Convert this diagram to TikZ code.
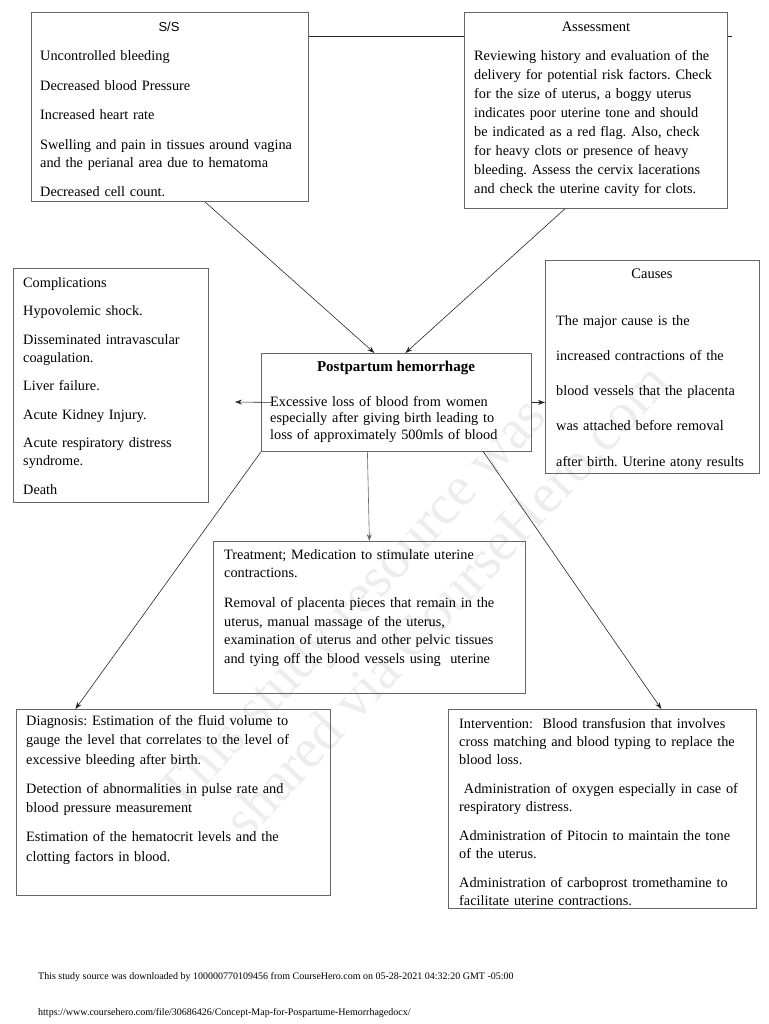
\documentclass[tikz,border=0pt]{standalone}
\usepackage{fontspec}
\setmainfont{Liberation Serif}
\newfontfamily\sansf{Liberation Sans}
\usetikzlibrary{arrows.meta}
\frenchspacing
\begin{document}
\frenchspacing
\begin{tikzpicture}[x=1pt,y=-1pt,
  box/.style={draw=black!60, line width=0.8pt, anchor=north west, inner sep=0pt},
  txt/.style={anchor=base west, inner sep=0pt, align=left, text width=340pt, font=\fontsize{14.3}{18}\selectfont},
  ttl/.style={anchor=base, inner sep=0pt, font=\fontsize{14.5}{18}\selectfont},
  wmark/.style={rotate=47, inner sep=0pt, text=black!7, font=\fontsize{56}{62}\selectfont},
  foot/.style={anchor=base west, inner sep=0pt, font=\fontsize{10}{11}\selectfont},
  conn/.style={draw=black!85, line width=0.6pt},
  arr/.style={conn, -{Stealth[length=7pt,width=5pt]}}]
\useasboundingbox (0,0) rectangle (768,1024);

% watermark
\node[wmark] (wm1) at (355,607) {This study resource was};
\node[wmark] (wm2) at (446,600) {shared via CourseHero.com};

% boxes
\node[box, minimum width=277pt, minimum height=189pt] (ss) at (31,12) {};
\node[box, minimum width=263pt, minimum height=196pt] (as) at (464,12) {};
\node[box, minimum width=195pt, minimum height=234pt] (cp) at (13,268) {};
\node[box, minimum width=270pt, minimum height=98pt] (ph) at (261,353) {};
\node[box, minimum width=214pt, minimum height=213pt] (cs) at (545,260) {};
\node[box, minimum width=312pt, minimum height=152pt] (tr) at (213,541) {};
\node[box, minimum width=314pt, minimum height=186pt] (dg) at (16,709) {};
\node[box, minimum width=308pt, minimum height=199pt] (iv) at (448,709) {};

% free ends
\coordinate (topend) at (732,36);
\coordinate (leftend) at (235,402);

% connectors
\draw[conn] (ss.east |- topend) -- (as.west |- topend);
\draw[conn] (as.east |- topend) -- (topend);
\draw[arr] ([xshift=35pt]ss.south) -- ([xshift=-22pt]ph.north);
\draw[arr] ([xshift=-31pt]as.south) -- ([xshift=9pt]ph.north);
\draw[arr] ([xshift=11pt]ph.west) -- (leftend);
\draw[arr] (ph.east) -- (cs.west |- ph.east);
\draw[arr, draw=black!60] ([xshift=-29pt]ph.south) -- ([xshift=0pt]tr.north);
\draw[arr] (ph.south west) -- ([xshift=-98pt]dg.north);
\draw[arr] ([xshift=87pt]ph.south) -- ([xshift=59pt]iv.north);

% texts
\node[ttl, font=\sansf\fontsize{13}{18}\selectfont] (ssT) at (169,32) {S/S};
\node[txt] (ssB) at (40,61) {Uncontrolled bleeding\\[11.5pt]
Decreased blood Pressure\\[11.5pt]
Increased heart rate\\[11.5pt]
Swelling and pain in tissues around vagina\\
and the perianal area due to hematoma\\[11.5pt]
Decreased cell count.};

\node[ttl] (asT) at (596,32) {Assessment};
\node[txt, font=\fontsize{14.3}{19}\selectfont] (asB) at (474,61) {Reviewing history and evaluation of the\\
delivery for potential risk factors. Check\\
for the size of uterus, a boggy uterus\\
indicates poor uterine tone and should\\
be indicated as a red flag. Also, check\\
for heavy clots or presence of heavy\\
bleeding. Assess the cervix lacerations\\
and check the uterine cavity for clots.};

\node[txt] (cpB) at (23,287) {Complications\\[10.5pt]
Hypovolemic shock.\\[10.5pt]
Disseminated intravascular\\
coagulation.\\[10.5pt]
Liver failure.\\[10.5pt]
Acute Kidney Injury.\\[10.5pt]
Acute respiratory distress\\
syndrome.\\[10.5pt]
Death};

\node[ttl, font=\bfseries\fontsize{15}{18}\selectfont] (phT) at (396,371) {Postpartum hemorrhage};
\node[txt, font=\fontsize{14.3}{16.7}\selectfont] (phB) at (270,406) {Excessive loss of blood from women\\
especially after giving birth leading to\\
loss of approximately 500mls of blood};

\node[ttl] (csT) at (652,278) {Causes};
\node[txt, font=\fontsize{14.3}{35.3}\selectfont] (csB) at (556,325) {The major cause is the\\
increased contractions of the\\
blood vessels that the placenta\\
was attached before removal\\
after birth. Uterine atony results};

\node[txt, font=\fontsize{14.3}{18.5}\selectfont] (trB) at (224,559) {Treatment; Medication to stimulate uterine\\
contractions.\\[11.5pt]
Removal of placenta pieces that remain in the\\
uterus, manual massage of the uterus,\\
examination of uterus and other pelvic tissues\\
and tying off the blood vessels using\ \ uterine};

\node[txt, font=\fontsize{14.3}{19.5}\selectfont] (dgB) at (26,725) {Diagnosis: Estimation of the fluid volume to\\
gauge the level that correlates to the level of\\
excessive bleeding after birth.\\[9.5pt]
Detection of abnormalities in pulse rate and\\
blood pressure measurement\\[9.5pt]
Estimation of the hematocrit levels and the\\
clotting factors in blood.};

\node[txt] (ivB) at (459,728) {Intervention:\ \ Blood transfusion that involves\\
cross matching and blood typing to replace the\\
blood loss.\\[11pt]
\ Administration of oxygen especially in case of\\
respiratory distress.\\[11pt]
Administration of Pitocin to maintain the tone\\
of the uterus.\\[11pt]
Administration of carboprost tromethamine to\\
facilitate uterine contractions.};

% footer
\node[foot] (f1) at (38,979) {This study source was downloaded by 100000770109456 from CourseHero.com on 05-28-2021 04:32:20 GMT -05:00};
\node[foot] (f2) at (38,1015) {https://www.coursehero.com/file/30686426/Concept-Map-for-Pospartume-Hemorrhagedocx/};
\end{tikzpicture}
\end{document}
